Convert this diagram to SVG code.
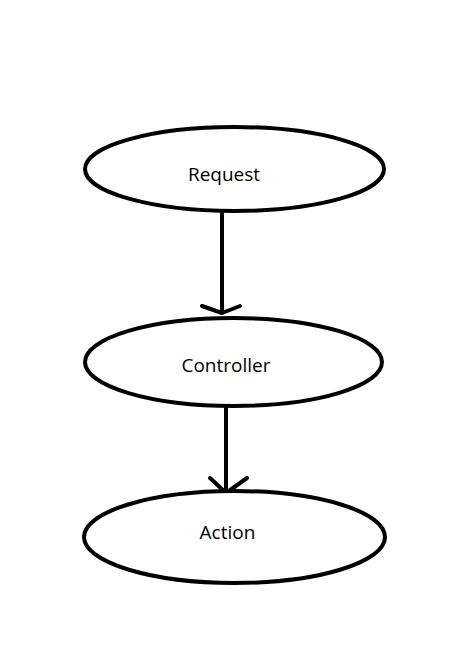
<svg xmlns="http://www.w3.org/2000/svg" width="460" height="646" viewBox="0 0 460 646">
<style>
.n{fill:#fff;stroke:#000;stroke-width:4}
.t{font-family:"Open Sans","Noto Sans",sans-serif;font-size:19px;fill:#000;text-anchor:middle}
.c{fill:none;stroke:#000;stroke-width:4;stroke-linecap:round;stroke-linejoin:round}
</style>
<rect width="460" height="646" fill="#fff"/>
<g id="connectors">
<path class="c" d="M222,213 L222,313"/>
<path class="c" d="M202,306 L222,313 L240,306"/>
<path class="c" d="M226,408 L226,493"/>
<path class="c" d="M210,478 L226,493 L247,478"/>
</g>
<g id="request">
<ellipse class="n" cx="234.5" cy="169" rx="149.5" ry="42"/>
<text class="t" x="224" y="181">Request</text>
</g>
<g id="controller">
<ellipse class="n" cx="233.5" cy="362" rx="148.5" ry="44"/>
<text class="t" x="226" y="372">Controller</text>
</g>
<g id="action">
<ellipse class="n" cx="234.5" cy="537" rx="150.5" ry="46"/>
<text class="t" x="227.5" y="539">Action</text>
</g>
</svg>
